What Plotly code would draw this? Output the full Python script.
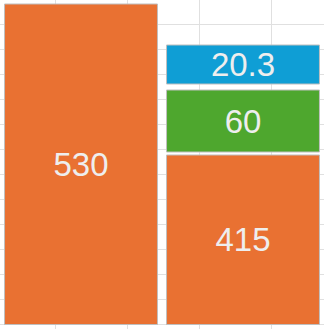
import plotly.graph_objects as go

# Data
categories = [0, 1]
labels = ["530", "415", "60", "20.3"]          # value labels shown on the bars
series_names = ["A", "B", "C", "D"]
bar_x = [0, 1, 1, 1]
# drawn extents of each bar segment on the chart's y axis (grid units)
seg_base = [0.0, 0.0, 6.90, 9.62]
seg_len = [12.82, 6.78, 2.48, 1.56]
colors = ["#E97132", "#E97132", "#4EA72E", "#0F9ED5"]

fig = go.Figure()
for i in range(len(labels)):
    fig.add_trace(go.Bar(
        x=[bar_x[i]], y=[seg_len[i]], base=[seg_base[i]],
        name=series_names[i],
        text=[labels[i]], textposition="inside", insidetextanchor="middle",
        textangle=0, constraintext="none",
        textfont=dict(family="Liberation Sans, Arial, sans-serif", size=33, color="#EEEEEE"),
        marker=dict(color=colors[i], line=dict(color="#BFBFBF", width=1)),
        width=0.944, cliponaxis=False,
    ))

fig.update_layout(
    width=324, height=329, margin=dict(l=0, r=0, t=0, b=0),
    paper_bgcolor="white", plot_bgcolor="white",
    barmode="overlay", showlegend=False,
    uniformtext=dict(mode=False),
    xaxis=dict(range=[-0.5, 1.5], showticklabels=False, zeroline=False,
               showgrid=True, gridcolor="#E0E0E0", gridwidth=1,
               tick0=-0.1605, dtick=0.4457, showline=False),
    yaxis=dict(range=[-0.18, 12.98], showticklabels=False, zeroline=False,
               showgrid=True, gridcolor="#E0E0E0", gridwidth=1,
               tick0=0, dtick=1, showline=False),
)

fig.write_html("out.html")
